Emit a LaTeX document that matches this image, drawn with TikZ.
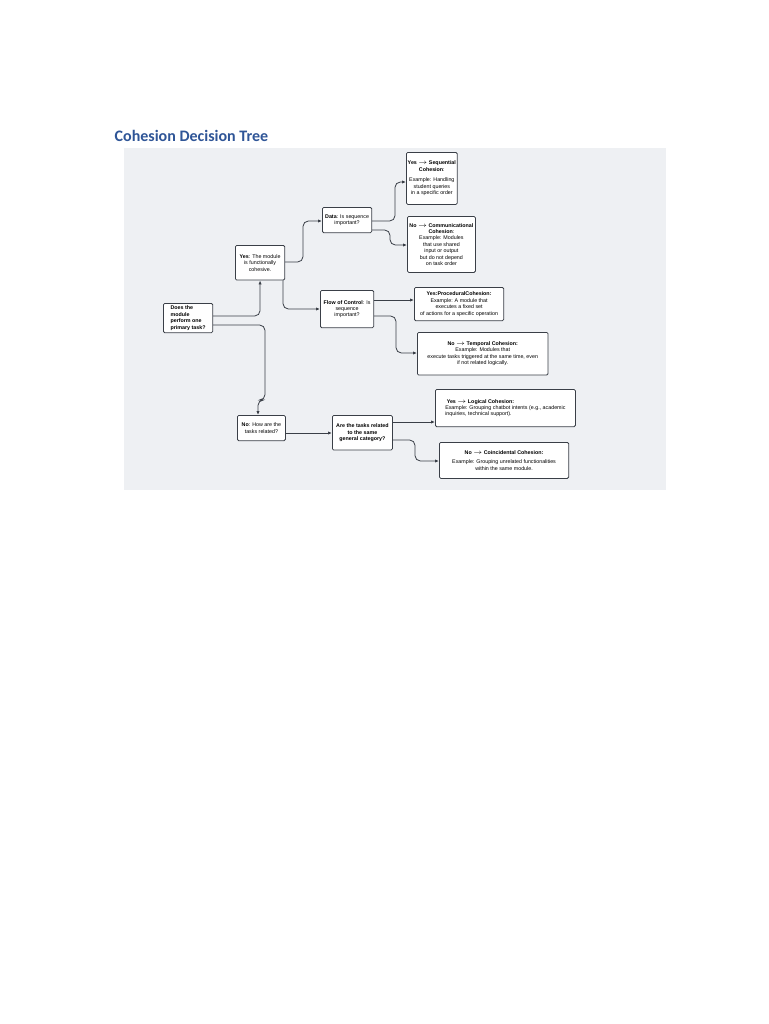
\documentclass[tikz,border=0pt]{standalone}
\usepackage{fontspec}
\setmainfont{Liberation Sans}
\newfontfamily\titlefont{Carlito}
\usetikzlibrary{arrows.meta}
\definecolor{bgg}{HTML}{EEF0F3}
\definecolor{ttl}{HTML}{2F5597}
\definecolor{ln}{HTML}{3A3F47}
\begin{document}
\begin{tikzpicture}[x=0.75pt,y=-0.75pt,
 bx/.style={draw=ln,fill=white,rounded corners=1pt,line width=0.6pt,align=center,font=\fontsize{4}{4.8}\selectfont,inner sep=1pt,anchor=north west},
 ar/.style={draw=ln,line width=0.6pt,rounded corners=4pt,-{Latex[length=3pt,width=2.5pt]}}]
\useasboundingbox (0,0) rectangle (768,1024);
\fill[white] (0,0) rectangle (768,1024);
\node[anchor=west,text=ttl,font=\titlefont\fontsize{12}{14}\selectfont\bfseries] (title) at (110,136) {Cohesion Decision Tree};
\fill[bgg] (124,148) rectangle (666,490);
\node[bx,minimum width=37pt,minimum height=22pt,align=left] (q1) at (163,303) {\textbf{Does the}\\\textbf{module}\\\textbf{perform one}\\\textbf{primary task?}};
\node[bx,minimum width=37pt,minimum height=26pt] (yes) at (235,245) {\textbf{Yes}: The module\\is functionally\\cohesive.};
\node[bx,minimum width=37pt,minimum height=19pt] (data) at (322,207) {\textbf{Data}: Is sequence\\important?};
\node[bx,minimum width=37pt,minimum height=39pt] (seq) at (406,152) {\textbf{Yes $\rightarrow$ Sequential}\\\textbf{Cohesion}:\\[3pt]Example: Handling\\student queries\\in a specific order};
\node[bx,minimum width=51pt,minimum height=42pt] (comm) at (407,216) {\textbf{No $\rightarrow$ Communicational}\\\textbf{Cohesion}:\\Example: Modules\\that use shared\\input or output\\but do not depend\\on task order};
\node[bx,minimum width=40pt,minimum height=28pt] (flow) at (320,290) {\textbf{Flow of Control}: Is\\sequence\\important?};
\node[bx,minimum width=67pt,minimum height=25pt] (proc) at (414,287) {\textbf{Yes:ProceduralCohesion:}\\Example: A module that\\executes a fixed set\\of actions for a specific operation};
\node[bx,minimum width=98pt,minimum height=32pt] (temp) at (417,332) {\textbf{No $\rightarrow$ Temporal Cohesion:}\\Example: Modules that\\execute tasks triggered at the same time, even\\if not related logically.};
\node[bx,minimum width=36pt,minimum height=19pt] (nob) at (237,415) {\textbf{No}: How are the\\tasks related?};
\node[bx,minimum width=45pt,minimum height=26pt] (are) at (332,415) {\textbf{Are the tasks related}\\\textbf{to the same}\\\textbf{general category?}};
\node[bx,minimum width=105pt,minimum height=28pt,align=left] (log) at (435,389) {\ \textbf{Yes $\rightarrow$ Logical Cohesion:}\\Example: Grouping chatbot intents (e.g., academic\\inquiries, technical support).};
\node[bx,minimum width=97pt,minimum height=27pt] (coi) at (439,442) {\textbf{No $\rightarrow$ Coincidental Cohesion:}\\[2pt]Example: Grouping unrelated functionalities\\within the same module.};
\draw[ar] (q1.east|-0,316) -| (yes.south);
\draw[ar] (q1.east|-0,325) -| (265,400) -- (258,400) -- (nob.north-|258,0);
\draw[ar] (yes.east|-0,262) -| (303,221) -- (data.west|-0,221);
\draw[ar] (yes.south-|283,0) -- (283,309) -- (flow.west|-0,309);
\draw[ar] (data.east|-0,221) -| (395,182) -- (seq.west|-0,182);
\draw[ar] (data.east|-0,230) -| (390,245) -- (comm.west|-0,245);
\draw[ar] (flow.east|-0,300) -- (proc.west|-0,300);
\draw[ar] (flow.east|-0,316) -| (396,353) -- (temp.west|-0,353);
\draw[ar] (nob.east|-0,433) -- (are.west|-0,433);
\draw[ar] (are.east|-0,422) -- (log.west|-0,422);
\draw[ar] (are.east|-0,440) -| (415,461) -- (coi.west|-0,461);
\end{tikzpicture}
\end{document}
